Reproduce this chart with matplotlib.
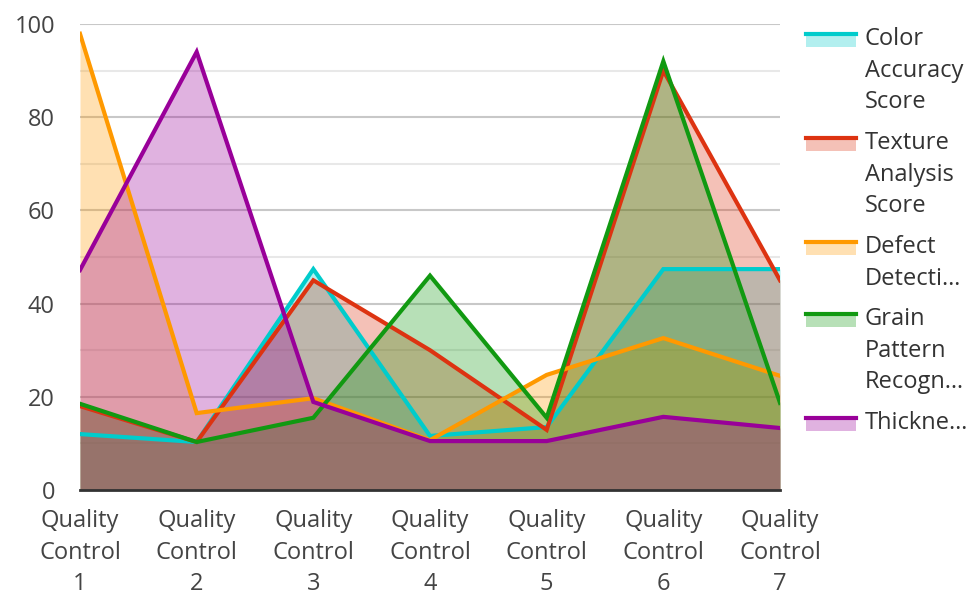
import matplotlib
matplotlib.use("Agg")
import matplotlib.pyplot as plt
from matplotlib.patches import Rectangle
from matplotlib.lines import Line2D
import numpy as np

plt.rcParams['font.family'] = ['Open Sans', 'DejaVu Sans']

categories = ["Quality\nControl\n1", "Quality\nControl\n2", "Quality\nControl\n3",
              "Quality\nControl\n4", "Quality\nControl\n5", "Quality\nControl\n6",
              "Quality\nControl\n7"]
series_names = ["Color\nAccuracy\nScore", "Texture\nAnalysis\nScore", "Defect\nDetecti…",
                "Grain\nPattern\nRecogn…", "Thickne…"]
color_accuracy = [12, 10.3, 47.4, 11.6, 13.5, 47.4, 47.4]
texture_analysis = [18, 10.3, 45, 30, 12.9, 90, 45]
defect_detection = [97.9, 16.5, 19.7, 10.7, 24.7, 32.6, 24.5]
grain_pattern = [18.5, 10.3, 15.5, 46, 15.5, 92, 18.7]
thickness = [47.2, 94, 18.9, 10.5, 10.5, 15.7, 13.3]
yticks = [0, 20, 40, 60, 80, 100]

series = [color_accuracy, texture_analysis, defect_detection, grain_pattern, thickness]
colors = ["#00cccc", "#dd3311", "#ff9900", "#119911", "#990099"]

FS = 17
W, H = 976, 595
fig = plt.figure(figsize=(W / 100, H / 100), dpi=100)
left, right, top, bottom = 80, 780, 24, 490
ax = fig.add_axes([left / W, 1 - bottom / H, (right - left) / W, (bottom - top) / H])

x = np.arange(len(categories))
for vals, c in zip(series, colors):
    ax.fill_between(x, 0, vals, color=c, alpha=0.3, linewidth=0, zorder=2)
for vals, c in zip(series, colors):
    ax.plot(x, vals, color=c, linewidth=3, zorder=3, solid_joinstyle='miter')

ax.set_xlim(0, len(categories) - 1)
ax.set_ylim(0, 100)
ax.set_yticks(yticks)
ax.set_yticks([10, 30, 50, 70, 90], minor=True)
ax.grid(axis='y', which='major', color='#c8c8c8', linewidth=1.5, zorder=1)
ax.grid(axis='y', which='minor', color='#e8e8e8', linewidth=1.5, zorder=1)
ax.set_xticks(x)
ax.set_xticklabels(categories, linespacing=1.41)
for s in ['left', 'right', 'top']:
    ax.spines[s].set_visible(False)
ax.spines['bottom'].set_color('#333333')
ax.spines['bottom'].set_linewidth(2)
ax.spines['bottom'].set_zorder(4)
ax.tick_params(axis='both', which='both', length=0, labelsize=FS, colors='#444444')
ax.tick_params(axis='x', pad=14)
ax.tick_params(axis='y', pad=18)
ax.set_axisbelow(True)

# legend
entry_tops = [36, 140, 244, 316, 420]
for name, c, yt in zip(series_names, colors, entry_tops):
    lx0, lx1 = 806, 856
    ly = yt - 2
    fig.add_artist(Rectangle((lx0 / W, 1 - (ly + 13) / H), (lx1 - lx0) / W, 13 / H,
                             facecolor=c, alpha=0.3, edgecolor='none',
                             transform=fig.transFigure))
    fig.add_artist(Line2D([lx0 / W, lx1 / W], [1 - ly / H, 1 - ly / H], color=c,
                          linewidth=3, transform=fig.transFigure))
    fig.text(865 / W, 1 - (yt - 9) / H, name, fontsize=FS, color='#333333',
             va='top', ha='left', linespacing=1.42)

fig.savefig("out.png", dpi=100, facecolor='white')
